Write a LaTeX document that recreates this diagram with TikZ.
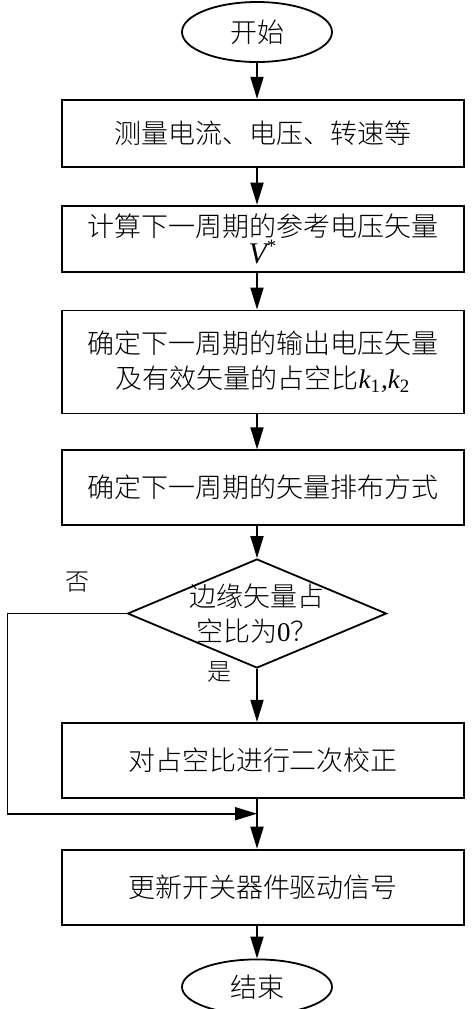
\documentclass[tikz,border=0pt]{standalone}
\usepackage{fontspec}
\setmainfont{Liberation Serif}
\newfontfamily\cjk{Noto Sans CJK SC Light}
\usepackage{tikz}
\usetikzlibrary{arrows.meta,positioning,calc,shapes.geometric}

\begin{document}
\begin{tikzpicture}[
    node distance=18pt,
    every node/.style={font=\cjk\fontsize{13.5pt}{17.5pt}\selectfont},
    term/.style={draw, ellipse, line width=0.9pt, minimum width=75pt, inner sep=0pt},
    box/.style={draw, line width=0.9pt, minimum width=201pt, inner sep=2pt, align=center},
    dec/.style={draw, diamond, line width=0.9pt, minimum width=129.5pt, minimum height=54.5pt,
                shape aspect=2.38, inner sep=-1.7pt, align=center},
    arr/.style={-{Triangle[length=11pt, width=6.5pt]}, line width=0.9pt},
    lbl/.style={font=\cjk\fontsize{12pt}{14pt}\selectfont}
]
    \useasboundingbox (0,0) rectangle (237pt,-504.5pt);

    \node[term, minimum height=30pt] (start) at (128.5pt,-16pt) {开始};
    \node[box, minimum height=33.5pt, below=18pt of start, xshift=3pt] (meas) {测量电流、电压、转速等};
    \node[box, minimum height=33pt, below=18.5pt of meas] (ref) {计算下一周期的参考电压矢量\\[-4pt]{\rmfamily\itshape\fontsize{15pt}{15pt}\selectfont V}\textsuperscript{\rmfamily*}};
    \node[box, minimum height=51.5pt, below=18.5pt of ref] (duty) {确定下一周期的输出电压矢量\\及有效矢量的占空比{\rmfamily\itshape k\textsubscript{\upshape1},k\textsubscript{\upshape2}}};
    \node[box, minimum height=37.5pt, below=17.5pt of duty] (seq) {确定下一周期的矢量排布方式};
    \node[dec, below=16pt of seq, xshift=-3pt] (edge) {边缘矢量占\\空比为{\rmfamily 0}？};
    \node[box, minimum height=37.5pt, below=26.5pt of edge, xshift=3pt] (corr) {对占空比进行二次校正};
    \node[box, minimum height=37.5pt, below=25pt of corr] (upd) {更新开关器件驱动信号};
    \node[term, minimum height=27.5pt, below=16.5pt of upd, xshift=-3pt] (stop) {结束};

    \coordinate (back) at ([xshift=-59.5pt]edge.west);
    \coordinate (join) at ($(corr.south -| edge)+(0,-7.5pt)$);

    \draw[arr] (start) -- (start |- meas.north);
    \draw[arr] (meas.south -| start) -- (start |- ref.north);
    \draw[arr] (ref.south -| start) -- (start |- duty.north);
    \draw[arr] (duty.south -| start) -- (start |- seq.north);
    \draw[arr] (seq.south -| edge) -- (edge);
    \draw[arr] (edge) -- (edge |- corr.north);
    \draw[arr] (corr.south -| edge) -- (edge |- upd.north);
    \draw[arr] (upd.south -| stop) -- (stop);
    \draw[arr] (edge.west) -- (back) |- (join);

    \node[lbl, above=7pt of back, xshift=35pt] (no) {否};
    \node[lbl, below=-7pt of edge.south, xshift=-19pt] (yes) {是};
\end{tikzpicture}
\end{document}
